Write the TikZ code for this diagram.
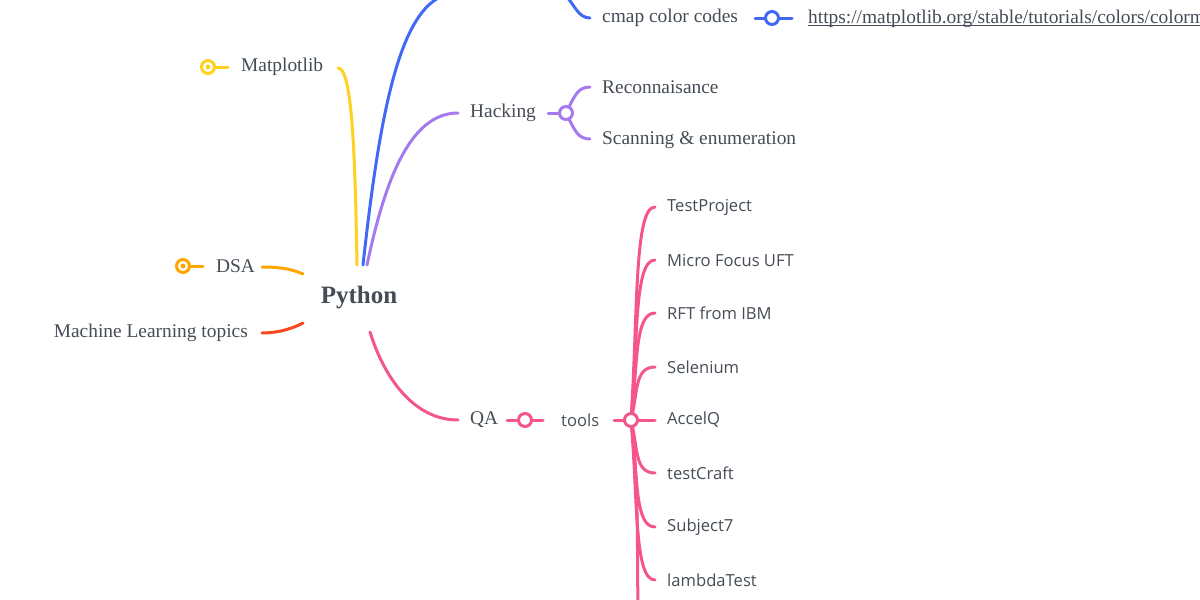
\documentclass[tikz,border=0pt]{standalone}
\usepackage{fontspec}
\setmainfont{Liberation Serif}
\newfontfamily\qsans{Open Sans}
\definecolor{tc}{HTML}{454C55}
\definecolor{cy}{HTML}{FFD21F}
\definecolor{cb}{HTML}{4169F5}
\definecolor{cp}{HTML}{A57AEE}
\definecolor{ck}{HTML}{F5568A}
\definecolor{co}{HTML}{FFA500}
\definecolor{cr}{HTML}{F8491E}
\begin{document}
\begin{tikzpicture}[x=1pt,y=-1pt,
 lbl/.style={text=tc,font=\fontsize{19.4}{19}\selectfont,inner sep=0pt},
 slbl/.style={lbl,font=\qsans\fontsize{16.6}{16}\selectfont},
 br/.style={line width=3pt,line cap=round},
 ring/.style={circle,draw,line width=3pt,fill=white,minimum size=13pt,inner sep=0pt}]
\useasboundingbox (0,0) rectangle (1200,600);
\clip (0,0) rectangle (1200,600);
\node[lbl,font=\bfseries\fontsize{25}{25}\selectfont] (py) at (359,298) {Python};
% yellow
\coordinate (y0) at (357,265);
\node[lbl,anchor=west] (mat) at (241,67) {Matplotlib};
\draw[br,cy] (y0) .. controls (355,150) and (352,68) .. (338,68);
\draw[br,cy] (214,67) -- (228,67);
\node[ring,draw=cy] (myr) at (208,67) {};
\fill[cy] (myr) circle (2.5);
% blue
\coordinate (b0) at (363,265);
\draw[br,cb] (b0) .. controls (380,110) and (400,10) .. (445,-5);
\draw[br,cb] (565,-5) .. controls (575,5) and (578,18) .. (590,18);
\node[lbl,anchor=west] (cmap) at (602,18) {cmap color codes};
\draw[br,cb] (755,18) -- (792,18);
\node[ring,draw=cb] (cbr) at (772,18) {};
\node[lbl,anchor=west] (url) at (808,18) {\underbar{https://matplotlib.org/stable/tutorials/colors/colormaps.html}};
% purple
\coordinate (p0) at (367,265);
\node[lbl,anchor=west] (hack) at (470,113) {Hacking};
\draw[br,cp] (p0) .. controls (385,180) and (410,113) .. (458,113);
\draw[br,cp] (548,113) -- (566,113);
\draw[br,cp] (566,113) .. controls (575,95) and (578,87) .. (590,87);
\draw[br,cp] (566,113) .. controls (575,131) and (578,139) .. (590,139);
\node[ring,draw=cp] (hr) at (566,113) {};
\node[lbl,anchor=west] (rec) at (602,87) {Reconnaisance};
\node[lbl,anchor=west] (scan) at (602,140) {Scanning \& enumeration};
% pink
\coordinate (k0) at (370,332);
\node[lbl,anchor=west] (qa) at (470,420) {QA};
\draw[br,ck] (k0) .. controls (385,380) and (415,420) .. (458,420);
\draw[br,ck] (507,420) -- (543,420);
\node[ring,draw=ck] (qr) at (525,420) {};
\node[slbl,anchor=west] (tools) at (561,420) {tools};
\foreach \t/\yy in {TestProject/207,Micro Focus UFT/260,RFT from IBM/313,Selenium/367,testCraft/473,Subject7/527,lambdaTest/580}{
 \draw[br,ck] (631,420) .. controls (638,{(420+\yy)/2}) and (634,\yy) .. (655,\yy);
 \node[slbl,anchor=west] at (667,\yy) {\t};
}
\draw[br,ck] (631,420) .. controls (639,480) and (637,560) .. (638,605);
\draw[br,ck] (614,420) -- (655,420);
\node[ring,draw=ck] (tr) at (631,420) {};
\node[slbl,anchor=west] (acc) at (667,420) {AccelQ};
% orange
\draw[br,co] (303,274) .. controls (290,268) and (275,267) .. (262,267);
\node[lbl,anchor=west] (dsa) at (216,266) {DSA};
\draw[br,co] (190,266) -- (203,266);
\node[ring,draw=co] (dr) at (183,266) {};
\fill[co] (dr) circle (2.5);
% red
\draw[br,cr] (303,323) .. controls (290,330) and (275,333) .. (262,333);
\node[lbl,anchor=east] (ml) at (248,333) {Machine Learning topics};
\end{tikzpicture}
\end{document}
